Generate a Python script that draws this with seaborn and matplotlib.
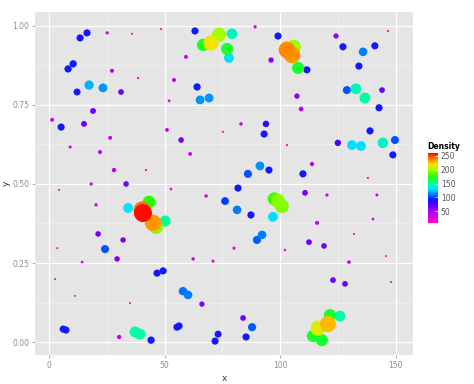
import pandas as pd
import numpy as np
import matplotlib
matplotlib.use('Agg')
import matplotlib.pyplot as plt
import seaborn as sns
from matplotlib.colors import LinearSegmentedColormap, Normalize
from matplotlib.cm import ScalarMappable
from matplotlib.ticker import MultipleLocator

# point data
x = [25.1, 35.9, 16.4, 13.4, 10.4, 8.2, 27.2, 38.5, 17.3, 23.3, 12.1, 31.1, 19.0, 1.3, 15.1, 5.2,
     26.4, 9.1, 22.0, 28.1, 41.9, 33.3, 18.2,
     48.4, 63.1, 66.6, 70.0, 73.5, 79.1, 77.0, 77.8, 89.1, 99.0, 102.9, 105.1, 105.9, 107.7, 111.5,
     59.2, 96.0, 54.0, 64.0, 65.3, 69.2, 51.9, 107.2, 109.0, 83.0, 93.8, 93.0, 51.0, 57.1, 75.2,
     61.0, 102.9, 91.2, 86.0, 95.1, 109.8, 81.7, 52.7,
     124.1, 127.1, 135.8, 140.9, 146.6, 134.0, 128.8, 132.7, 136.6, 144.0, 142.7, 138.8, 124.9,
     131.0, 134.9, 144.4, 149.6, 148.7, 113.7, 137.9,
     4.3, 20.3, 34.2, 43.2, 40.2, 40.6, 45.0, 46.3, 21.2, 32.0, 24.2, 3.5, 29.4, 14.3, 46.7, 2.6,
     11.2, 35.0, 6.1, 7.3, 30.3, 37.2, 39.3, 44.1,
     67.9, 76.1, 81.3, 87.3, 97.3, 99.0, 100.7, 96.8, 110.7, 50.2, 92.1, 89.9, 112.4, 80.0, 102.0,
     62.3, 70.9, 49.3, 57.9, 60.1, 66.1, 83.9, 87.8, 55.3, 56.2, 73.1, 71.8, 85.2,
     120.2, 141.8, 115.9, 140.1, 131.9, 118.9, 145.7, 129.7, 122.8, 128.0, 147.9,
     121.5, 125.8, 120.6, 116.3, 114.1, 118.0]
y = [0.978, 0.975, 0.978, 0.962, 0.880, 0.864, 0.858, 0.835, 0.813, 0.804, 0.791, 0.791, 0.731,
     0.703, 0.690, 0.680, 0.646, 0.617, 0.601, 0.544, 0.544, 0.500, 0.500,
     0.990, 0.984, 0.940, 0.946, 0.972, 0.975, 0.927, 0.899, 0.997, 0.968, 0.924, 0.908, 0.934,
     0.867, 0.861, 0.902, 0.892, 0.829, 0.807, 0.766, 0.772, 0.763, 0.778, 0.737, 0.690, 0.690,
     0.658, 0.671, 0.639, 0.665, 0.595, 0.623, 0.557, 0.532, 0.544, 0.532, 0.487, 0.484,
     0.968, 0.934, 0.918, 0.937, 0.984, 0.873, 0.797, 0.801, 0.772, 0.797, 0.741, 0.668, 0.630,
     0.623, 0.620, 0.630, 0.639, 0.592, 0.563, 0.519,
     0.481, 0.434, 0.424, 0.443, 0.418, 0.408, 0.377, 0.364, 0.342, 0.323, 0.294, 0.297, 0.263,
     0.253, 0.218, 0.199, 0.146, 0.123, 0.041, 0.038, 0.016, 0.032, 0.025, 0.006,
     0.462, 0.446, 0.418, 0.402, 0.453, 0.446, 0.430, 0.396, 0.472, 0.383, 0.339, 0.323, 0.316,
     0.297, 0.291, 0.263, 0.256, 0.225, 0.161, 0.149, 0.120, 0.076, 0.047, 0.047, 0.051, 0.025,
     0.003, 0.016,
     0.465, 0.465, 0.377, 0.389, 0.342, 0.304, 0.272, 0.253, 0.196, 0.184, 0.190,
     0.085, 0.082, 0.057, 0.044, 0.019, 0.006]
density = [30, 12, 90, 90, 92, 92, 42, 14, 122, 116, 88, 68, 70, 40, 70, 90, 40, 26, 42, 48, 14, 66, 30,
           10, 90, 170, 215, 200, 145, 168, 132, 30, 90, 238, 235, 198, 168, 90,
           40, 62, 42, 92, 116, 116, 22, 62, 50, 32, 80, 90, 38, 66, 12,
           38, 12, 116, 104, 90, 90, 90, 20,
           60, 90, 112, 90, 12, 90, 104, 145, 148, 68, 90, 90, 78,
           130, 130, 142, 104, 90, 45, 12,
           10, 30, 132, 175, 242, 258, 235, 195, 66, 64, 104, 10, 64, 22, 90, 10,
           10, 10, 90, 90, 45, 148, 150, 92,
           32, 100, 112, 90, 180, 195, 195, 130, 68, 150, 112, 106, 68, 28, 18,
           32, 26, 90, 110, 112, 62, 68, 106, 90, 90, 88, 90, 90,
           30, 26, 42, 22, 12, 66, 10, 36, 68, 68, 10,
           168, 148, 228, 212, 168, 168]

cbar_ticks = [50, 100, 150, 200, 250]
dens_min, dens_max = 8, 260

df = pd.DataFrame({'x': x, 'y': y, 'Density': density}).sort_values('Density')

# rainbow scale, pink (low) -> red (high)
stops = [(8, '#FF00CC'), (50, '#B000FF'), (75, '#5000FF'), (95, '#0020FF'), (115, '#0090FF'),
         (130, '#00E0FF'), (150, '#00FFA0'), (175, '#20FF00'), (200, '#A0FF00'),
         (220, '#FFE000'), (240, '#FF8000'), (260, '#FF0000')]
cmap = LinearSegmentedColormap.from_list(
    'dens', [((v - dens_min) / (dens_max - dens_min), c) for v, c in stops])
norm = Normalize(dens_min, dens_max)

# marker diameter grows linearly with density (as in the old ggplot size scale)
def marker_area(v):
    d_px = 2 + 16 * (v - 10) / (258 - 10)
    return (d_px * 0.72) ** 2

size_map = {v: marker_area(v) for v in df['Density'].unique()}

fig = plt.figure(figsize=(4.74, 3.84), dpi=100)
ax = fig.add_axes([35 / 474, 1 - 355 / 384, 378 / 474, 343 / 384])
ax.set_facecolor('#E5E5E5')

sns.scatterplot(data=df, x='x', y='y', hue='Density', size='Density', palette=cmap,
                hue_norm=norm, sizes=size_map, linewidth=0, legend=False, ax=ax, zorder=3)

ax.set_xlim(-6.1, 157.4)
ax.set_ylim(-0.041, 1.044)
ax.xaxis.set_major_locator(MultipleLocator(50))
ax.xaxis.set_minor_locator(MultipleLocator(25))
ax.yaxis.set_major_locator(MultipleLocator(0.25))
ax.yaxis.set_minor_locator(MultipleLocator(0.125))
ax.yaxis.set_major_formatter(plt.FuncFormatter(lambda v, p: f'{v:.2f}'))
ax.grid(which='major', color='white', linewidth=0.9, zorder=1)
ax.grid(which='minor', color='#F2F2F2', linewidth=0.45, zorder=1)
ax.set_axisbelow(True)
for s in ax.spines.values():
    s.set_visible(False)
ax.tick_params(which='major', labelsize=5.5, labelcolor='#8C8C8C', color='#8C8C8C',
               length=2, width=0.5, pad=2)
ax.tick_params(which='minor', length=0)
ax.set_xlabel('x', fontsize=6.5, color='#333333', labelpad=3)
ax.set_ylabel('y', fontsize=6.5, color='#333333', labelpad=1)

# colour bar
cax = fig.add_axes([428 / 474, 1 - 223 / 384, 10 / 474, 70 / 384])
sm = ScalarMappable(norm=norm, cmap=cmap)
cb = fig.colorbar(sm, cax=cax, ticks=cbar_ticks)
cb.outline.set_visible(False)
cax.tick_params(labelsize=5.5, labelcolor='#555555', color='white', direction='in',
                length=2, width=0.5, pad=2)
cax.set_title('Density', fontsize=5.5, fontweight='bold', loc='left', pad=3, x=-0.1)

fig.savefig('out.png', dpi=100)
